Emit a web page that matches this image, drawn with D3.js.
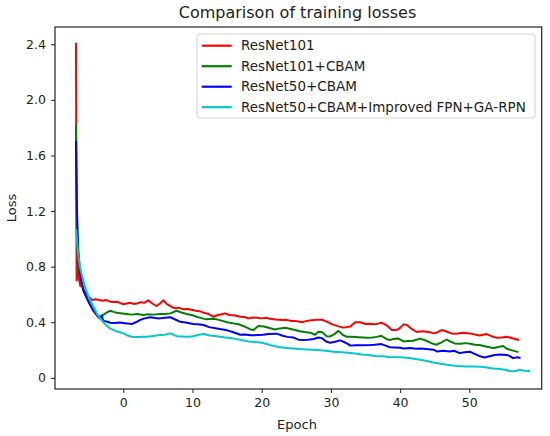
<!DOCTYPE html>
<html>
<head>
<meta charset="utf-8">
<script src="https://cdn.jsdelivr.net/npm/d3@7"></script>
<style>
  html, body { margin: 0; padding: 0; background: #fff; }
  svg { display: block; font-family: "DejaVu Sans", sans-serif; }
</style>
</head>
<body>
<svg id="chart" width="550" height="436"></svg>
<script>
// ---- data ----
const seriesNames = ["ResNet101", "ResNet101+CBAM", "ResNet50+CBAM", "ResNet50+CBAM+Improved FPN+GA-RPN"];
const seriesColors = ["#ff0000", "#008000", "#0000ff", "#00c8cc"];
const xTicks = [0, 10, 20, 30, 40, 50];
const yTicks = [0, 0.4, 0.8, 1.2, 1.6, 2.0, 2.4];
const yTickLabels = ["0", "0.4", "0.8", "1.2", "1.6", "2.0", "2.4"];

const resnet101 = [[-6.84,2.41],[-6.75,0.70],[-6.6,0.92],[-6.45,0.72],[-6.2,0.66],[-6.0,0.68],[-5.7,0.63],[-5.5,0.62],[-5.2,0.59],[-5,0.58],[-4.7,0.57],[-4.5,0.56],[-4,0.565],[-3.5,0.56],[-3,0.555],[-2.5,0.56],[-2,0.55],[-1.5,0.545],[-1,0.548],[-0.5,0.54],[0,0.53],[0.5,0.535],[1,0.54],[1.5,0.532],[2,0.535],[2.5,0.545],[3,0.54],[3.6,0.558],[4.2,0.535],[4.8,0.517],[5.3,0.535],[5.8,0.558],[6.3,0.53],[7,0.51],[7.5,0.50],[8,0.505],[8.7,0.493],[9.3,0.495],[10,0.488],[10.5,0.483],[11,0.48],[11.6,0.469],[12.2,0.462],[13,0.44],[13.6,0.45],[14.2,0.458],[14.7,0.464],[15.3,0.452],[16,0.45],[16.9,0.44],[17.5,0.438],[18.1,0.428],[18.7,0.435],[19.3,0.432],[20,0.428],[20.6,0.432],[21.2,0.425],[22,0.42],[22.9,0.416],[23.5,0.418],[24.2,0.41],[24.8,0.41],[25.8,0.40],[26.5,0.41],[27.2,0.415],[28,0.418],[28.7,0.418],[29.4,0.405],[30.2,0.385],[31,0.372],[31.6,0.363],[32.2,0.365],[32.8,0.37],[33.5,0.40],[34.2,0.40],[35,0.388],[35.6,0.39],[36.4,0.385],[37.3,0.397],[38,0.38],[38.8,0.345],[39.5,0.344],[40,0.36],[40.5,0.385],[41,0.38],[41.7,0.35],[42.4,0.33],[43.2,0.335],[44.1,0.33],[45,0.32],[46,0.344],[46.6,0.335],[47.4,0.32],[48.2,0.318],[49,0.325],[50.1,0.32],[50.8,0.312],[51.5,0.305],[52.5,0.315],[53.2,0.30],[54,0.288],[54.7,0.29],[55.4,0.296],[56.2,0.285],[57.2,0.272]];

const resnet101Cbam = [[-6.84,1.82],[-6.7,1.0],[-6.5,0.80],[-6.2,0.72],[-6,0.68],[-5.7,0.62],[-5.3,0.584],[-5,0.56],[-4.7,0.52],[-4.33,0.50],[-4,0.47],[-3.6,0.44],[-3.3,0.445],[-2.9,0.452],[-2.4,0.47],[-1.9,0.483],[-1.4,0.475],[-0.96,0.469],[-0.4,0.465],[0.5,0.459],[1.2,0.455],[2,0.46],[2.9,0.452],[3.6,0.458],[4.3,0.455],[5.3,0.459],[6,0.46],[6.8,0.464],[7.7,0.483],[8.4,0.47],[9.2,0.459],[10,0.45],[10.6,0.44],[11.3,0.43],[12,0.421],[12.8,0.425],[13.5,0.421],[14.3,0.41],[15,0.40],[15.9,0.392],[16.7,0.385],[17.5,0.37],[18.3,0.35],[18.8,0.344],[19.5,0.373],[20.3,0.37],[21,0.36],[21.9,0.348],[22.6,0.356],[23.4,0.36],[24.2,0.352],[24.8,0.344],[25.5,0.336],[26.2,0.33],[27,0.325],[27.7,0.31],[28.2,0.332],[28.7,0.33],[29.4,0.30],[29.9,0.298],[30.5,0.315],[31.1,0.338],[31.7,0.31],[32.3,0.296],[33,0.295],[34,0.292],[35.2,0.288],[36,0.29],[36.6,0.295],[37.3,0.303],[38,0.28],[38.5,0.272],[39.2,0.282],[39.7,0.284],[40.5,0.262],[41.2,0.265],[41.9,0.267],[42.4,0.275],[42.9,0.282],[43.8,0.267],[44.5,0.25],[45.2,0.238],[46,0.255],[46.7,0.276],[47.3,0.26],[47.9,0.248],[48.7,0.245],[49.5,0.25],[50.1,0.246],[50.8,0.238],[51.5,0.236],[52.2,0.228],[52.9,0.22],[53.5,0.215],[54.2,0.222],[54.9,0.229],[55.4,0.21],[56.2,0.198],[57.1,0.185]];

const resnet50Cbam = [[-6.84,1.705],[-6.7,1.2],[-6.5,0.92],[-6.26,0.76],[-6,0.68],[-5.8,0.632],[-5.3,0.575],[-4.8,0.524],[-4.3,0.48],[-3.85,0.452],[-3.5,0.43],[-3.37,0.428],[-3.1,0.445],[-2.9,0.41],[-2.4,0.405],[-1.9,0.397],[-1.2,0.395],[-0.5,0.398],[0.5,0.392],[1.2,0.387],[1.8,0.40],[2.4,0.416],[3.1,0.428],[3.9,0.436],[4.6,0.43],[5.3,0.428],[6,0.432],[6.8,0.436],[7.5,0.42],[8.2,0.404],[9,0.398],[10.1,0.387],[10.8,0.385],[11.6,0.38],[12.4,0.365],[13.5,0.356],[14.2,0.35],[15,0.342],[15.8,0.33],[16.9,0.31],[17.6,0.312],[18.4,0.306],[19.5,0.308],[20.2,0.31],[21,0.315],[22.2,0.318],[22.9,0.305],[23.7,0.295],[24.6,0.29],[25.3,0.275],[26,0.272],[26.7,0.275],[27.5,0.28],[28.2,0.29],[28.7,0.286],[29.3,0.262],[29.9,0.252],[30.6,0.26],[31.3,0.27],[31.9,0.258],[32.5,0.243],[32.8,0.232],[33.6,0.235],[34.5,0.235],[35.6,0.236],[36.3,0.238],[37.3,0.243],[38,0.23],[38.5,0.22],[39.3,0.218],[40,0.217],[40.5,0.212],[41.5,0.215],[42.3,0.21],[42.9,0.212],[43.8,0.208],[44.8,0.203],[45.3,0.19],[46.2,0.195],[47.2,0.19],[47.8,0.195],[48.6,0.178],[49.3,0.185],[50.1,0.188],[50.6,0.176],[51.4,0.158],[52.2,0.147],[52.9,0.155],[53.7,0.164],[54.4,0.168],[55.4,0.164],[55.8,0.158],[56.3,0.142],[57,0.148],[57.4,0.142]];

const resnet50Improved = [[-6.84,1.07],[-6.7,0.99],[-6.5,0.88],[-6.26,0.80],[-6,0.74],[-5.54,0.656],[-5,0.58],[-4.33,0.512],[-3.8,0.46],[-3.37,0.428],[-2.7,0.39],[-1.92,0.356],[-1,0.335],[0,0.32],[0.6,0.305],[1.2,0.296],[2,0.294],[2.8,0.295],[3.4,0.296],[4.3,0.302],[5.3,0.308],[6,0.31],[6.8,0.32],[7.3,0.31],[7.7,0.30],[8.5,0.298],[9.3,0.296],[10.1,0.30],[10.9,0.31],[11.6,0.315],[12.5,0.305],[13.5,0.30],[14.5,0.292],[15.9,0.284],[17,0.272],[18.1,0.262],[19,0.258],[19.8,0.255],[20.6,0.245],[21.5,0.232],[22.5,0.222],[23.5,0.215],[24.6,0.212],[25.5,0.207],[26.5,0.205],[27.5,0.202],[28.5,0.198],[29.5,0.193],[30.3,0.188],[31.5,0.185],[32.5,0.18],[33.5,0.175],[34.5,0.168],[35.4,0.164],[36.3,0.158],[37.5,0.155],[38.5,0.15],[40,0.148],[41,0.145],[42,0.138],[42.9,0.13],[43.9,0.122],[44.8,0.11],[45.8,0.102],[46.8,0.095],[48.2,0.085],[49.5,0.082],[50.5,0.082],[51.6,0.08],[52.5,0.075],[53.5,0.068],[54.4,0.064],[55.2,0.058],[55.8,0.05],[56.5,0.048],[57.3,0.056],[58,0.052],[58.8,0.05]];

const allSeries = [resnet101, resnet101Cbam, resnet50Cbam, resnet50Improved];

// ---- layout ----
const svg = d3.select("#chart");
const plot = { left: 55, top: 27, right: 541.7, bottom: 389 };
const textColor = "#222";

const x = d3.scaleLinear().domain([-9.87, 60.46]).range([plot.left, plot.right]);
const y = d3.scaleLinear().domain([-0.08, 2.524]).range([plot.bottom, plot.top]);

svg.append("rect").attr("width", 550).attr("height", 436).attr("fill", "#fff");

svg.append("clipPath").attr("id", "clip").append("rect")
  .attr("x", plot.left).attr("y", plot.top)
  .attr("width", plot.right - plot.left).attr("height", plot.bottom - plot.top);

const line = d3.line().x(d => x(d[0])).y(d => y(d[1]));

const lines = svg.append("g").attr("clip-path", "url(#clip)");
allSeries.forEach((s, i) => {
  lines.append("path").datum(s)
    .attr("d", line)
    .attr("fill", "none")
    .attr("stroke", seriesColors[i])
    .attr("stroke-width", 2)
    .attr("stroke-linejoin", "round")
    .attr("stroke-linecap", "butt");
});

// axes
const xAxis = d3.axisBottom(x).tickValues(xTicks).tickSize(4).tickPadding(5).tickFormat(d3.format("d"));
const yAxis = d3.axisLeft(y).tickValues(yTicks).tickSize(4).tickPadding(5).tickFormat((d, i) => yTickLabels[i]);

const gx = svg.append("g").attr("transform", `translate(0,${plot.bottom})`).call(xAxis);
const gy = svg.append("g").attr("transform", `translate(${plot.left},0)`).call(yAxis);
[gx, gy].forEach(g => {
  g.select(".domain").remove();
  g.selectAll(".tick line").attr("stroke", textColor).attr("stroke-width", 1);
  g.selectAll(".tick text").attr("fill", textColor).style("font-size", "12.5px").style("font-family", "DejaVu Sans, sans-serif");
});

// frame
svg.append("rect")
  .attr("x", plot.left).attr("y", plot.top)
  .attr("width", plot.right - plot.left).attr("height", plot.bottom - plot.top)
  .attr("fill", "none").attr("stroke", textColor).attr("stroke-width", 1.2);

// title and labels
svg.append("text").attr("x", 297.5).attr("y", 18)
  .attr("text-anchor", "middle").attr("fill", textColor)
  .style("font-size", "16px").text("Comparison of training losses");

svg.append("text").attr("x", 297).attr("y", 429)
  .attr("text-anchor", "middle").attr("fill", textColor)
  .style("font-size", "13px").text("Epoch");

svg.append("text")
  .attr("transform", `translate(16,${(plot.top + plot.bottom) / 2}) rotate(-90)`)
  .attr("text-anchor", "middle").attr("fill", textColor)
  .style("font-size", "13px").text("Loss");

// legend
const lg = svg.append("g");
lg.append("rect").attr("x", 197).attr("y", 34).attr("width", 338).attr("height", 84)
  .attr("rx", 3).attr("fill", "#fff").attr("fill-opacity", 0.85)
  .attr("stroke", "#d0d0d0").attr("stroke-width", 1);
seriesNames.forEach((name, i) => {
  const yy = 45.7 + i * 20.5;
  lg.append("line").attr("x1", 201.7).attr("x2", 231.7).attr("y1", yy).attr("y2", yy)
    .attr("stroke", seriesColors[i]).attr("stroke-width", 2.2);
  lg.append("text").attr("x", 241).attr("y", yy).attr("dy", "0.35em")
    .attr("fill", textColor).style("font-size", "13.5px").text(name);
});
</script>
</body>
</html>
